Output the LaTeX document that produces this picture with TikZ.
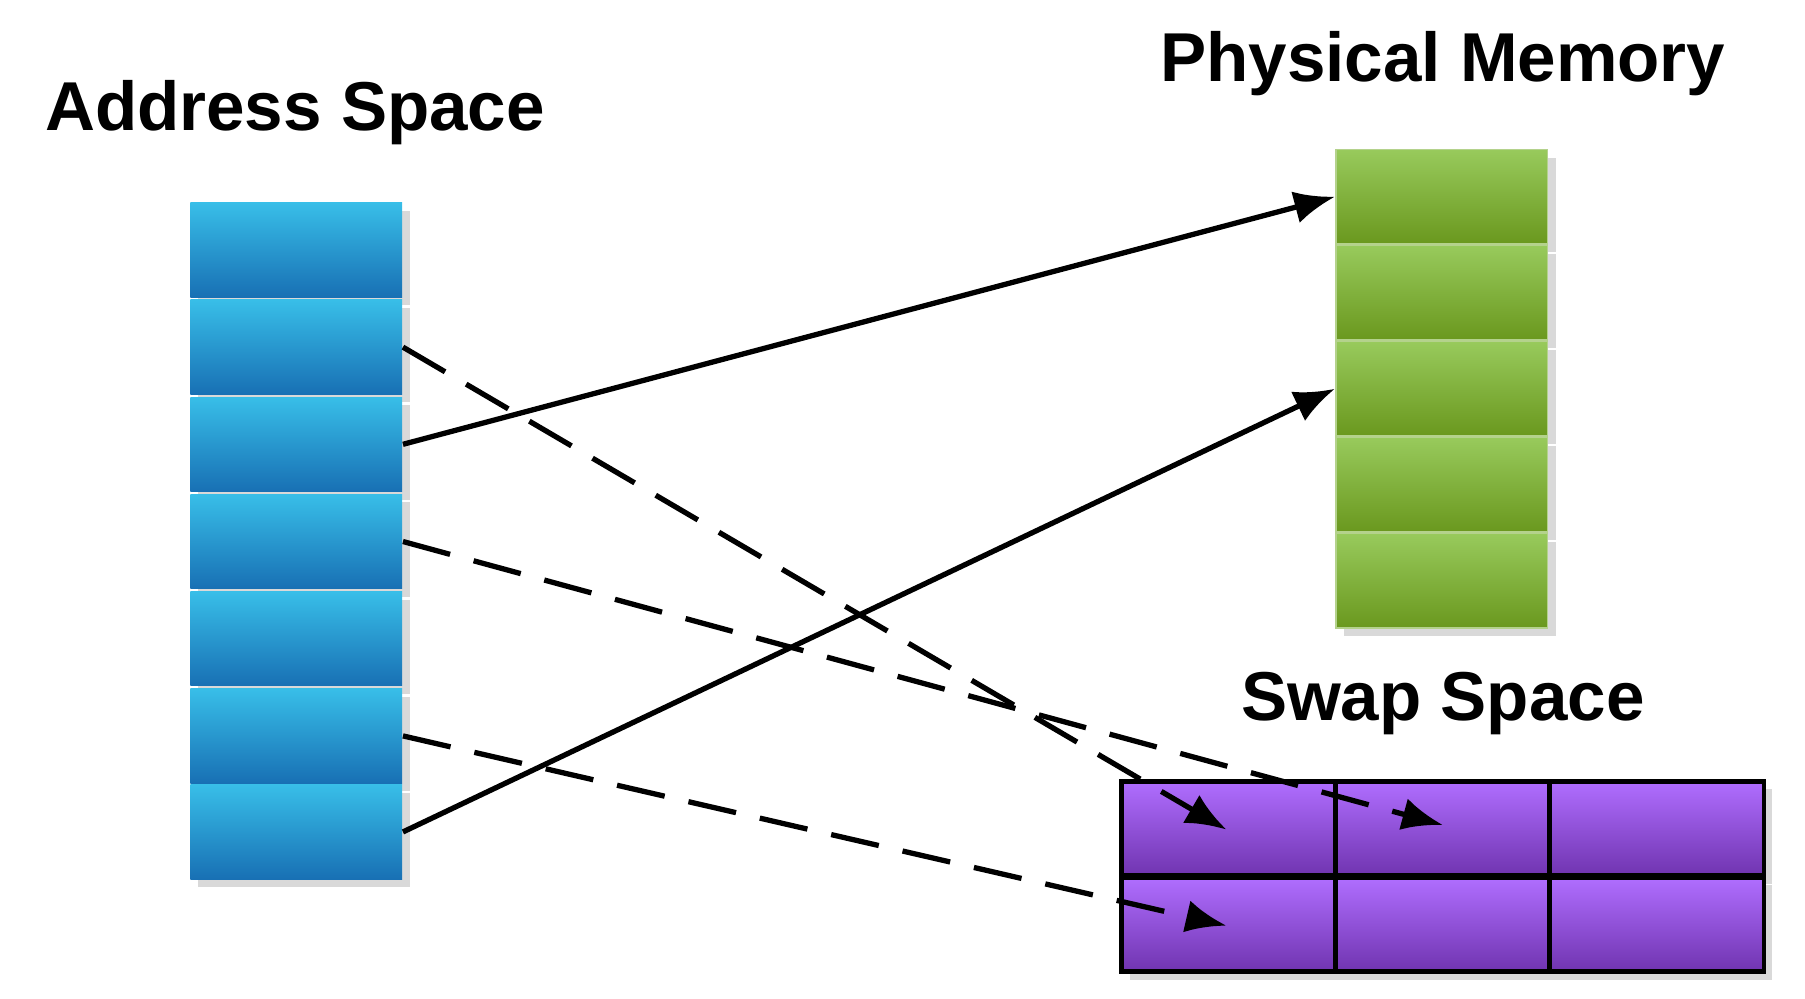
\documentclass[tikz,border=0pt]{standalone}
\usepackage{fontspec}
\setmainfont{Liberation Sans}
\usetikzlibrary{shadows,arrows.meta}
\begin{document}
\begin{tikzpicture}[x=0.01cm,y=-0.01cm,
 blk/.style={draw=none,inner sep=0,minimum width=1.83cm,minimum height=0.815cm,drop shadow={opacity=0.3,shadow xshift=2pt,shadow yshift=-2pt}},
 bl/.style={blk,top color=blue!10!cyan!70!black!90,bottom color=cyan!50!blue!75!black,top color={rgb,255:red,56;green,190;blue,232},bottom color={rgb,255:red,24;green,112;blue,180}},
 gr/.style={blk,draw={rgb,255:red,180;green,210;blue,140},top color={rgb,255:red,152;green,202;blue,92},bottom color={rgb,255:red,106;green,152;blue,30}},
 pu/.style={blk,draw=black,line width=1.2pt,minimum width=1.85cm,top color={rgb,255:red,176;green,110;blue,255},bottom color={rgb,255:red,112;green,52;blue,176}},
 ttl/.style={font=\fontsize{17}{20}\selectfont\bfseries},
 sol/.style={line width=1.3pt,-{Latex[length=10pt,width=8pt]}},
 dsh/.style={sol,dash pattern=on 12pt off 6pt}]
\useasboundingbox (0,0) rectangle (1560,863);
\node[ttl] (tA) at (255,97) {Address Space};
\node[ttl] (tP) at (1247,55) {Physical Memory};
\node[ttl] (tS) at (1247,608) {Swap Space};
\foreach \i/\y in {1/216,2/300,3/384,4/468,5/552,6/636,7/719}
  \node[bl] (a\i) at (256,\y) {};
\foreach \i/\y in {1/170,2/253,3/336,4/419,5/502}
  \node[gr] (p\i) at (1246,\y) {};
\foreach \i/\x in {1/1062,2/1247,3/1432}{
  \node[pu] (s1\i) at (\x,716) {};
  \node[pu] (s2\i) at (\x,799) {};}
\coordinate (e1) at (1060,717);
\coordinate (e2) at (1247,713);
\coordinate (e3) at (1060,800);
\draw[sol] (a3.east) -- (p1.west);
\draw[sol] (a7.east) -- (p3.west);
\draw[dsh] (a2.east) -- (e1);
\draw[dsh] (a4.east) -- (e2);
\draw[dsh] (a6.east) -- (e3);
\end{tikzpicture}
\end{document}
